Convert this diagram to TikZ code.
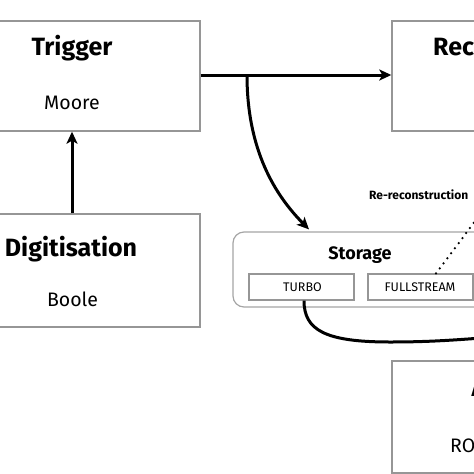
\documentclass[tikz,border=0pt]{standalone}
\usepackage{fontspec}
\setmainfont{Fira Sans}
\usetikzlibrary{arrows.meta,calc}
\definecolor{boxgray}{RGB}{150,150,150}
\definecolor{storegray}{RGB}{165,165,165}
\begin{document}
\begin{tikzpicture}[x=1pt,y=-1pt,
  stagebox/.style={draw=boxgray,line width=1.4pt,minimum width=256pt,minimum height=110pt,inner sep=0pt},
  streambox/.style={draw=boxgray,line width=1.2pt,minimum width=105pt,minimum height=26pt,inner sep=0pt},
  storebox/.style={draw=storegray,line width=1.2pt,rounded corners=11pt,minimum width=254pt,minimum height=75pt,inner sep=0pt},
  title/.style={font=\bfseries\fontsize{25}{28}\selectfont,inner sep=0pt,anchor=base},
  sub/.style={font=\fontsize{19.5}{22}\selectfont,inner sep=0pt,anchor=base},
  small/.style={font=\fontsize{12.5}{14}\selectfont,inner sep=0pt,anchor=base},
  flow/.style={line width=3pt,-{Stealth[length=12pt,width=11pt,inset=3pt]}},
  dots/.style={line width=2.5pt,line cap=round,dash pattern=on 0pt off 6.3pt}
]
\useasboundingbox (0,0) rectangle (474,474);
\clip (0,0) rectangle (474,474);

% stage boxes
\node[stagebox] (trig) at (72,76) {};
\node[stagebox] (reco) at (520,76) {};
\node[stagebox,minimum height=113pt] (digi) at (72,270.5) {};
\node[stagebox,minimum height=112pt] (ana) at (520,417) {};

% storage
\node[storebox] (storage) at (360,269.5) {};
\node[streambox] (turbo) at (301.5,287) {};
\node[streambox] (full) at (420.5,287) {};

% texts
\node[title] (trigT) at (72,55) {Trigger};
\node[sub] (trigS) at (72,109) {Moore};
\node[title] (digiT) at (71,256) {Digitisation};
\node[sub] (digiS) at (72.5,306) {Boole};
\node[title,anchor=base west] (recoT) at (433,55) {Reconstruction};
\node[title,anchor=base west] (anaT) at (471.5,396) {Analysis};
\node[sub,anchor=base west] (anaS) at (450,452) {ROOT};
\node[font=\bfseries\fontsize{18}{20}\selectfont,inner sep=0pt,anchor=base] (storeT) at (360,259) {Storage};
\node[small] (turboT) at (302.5,291.5) {TURBO};
\node[small] (fullT) at (420,291.5) {FULLSTREAM};
\node[font=\bfseries\fontsize{12}{14}\selectfont,inner sep=0pt,anchor=base west] (rerecoT) at (369,199) {Re-reconstruction};

% connectors
\draw[flow] (digi.north) -- (trig.south);
\draw[flow] (trig.east |- 0,75) coordinate (tout) -- (reco.west |- 0,75);
\coordinate (split) at (247,75);
\coordinate (storein) at ($(storage.north)+(-51,-2)$);
\draw[flow] (split) .. controls (247,150) and (275,195) .. (storein);
\coordinate (turboout) at ($(turbo.south)+(2.5,0)$);
\coordinate (mid) at (390,342);
\coordinate (offright) at (495,337);
\draw[line width=3pt] (turboout) .. controls (304,330) and (325,342) .. (mid) .. controls (430,342) and (455,340) .. (offright);
\coordinate (fullup) at ($(full.north)+(15.5,0)$);
\coordinate (recodown) at ($(reco.south)+(22,0)$);
\draw[dots] (fullup) -- (recodown);
\end{tikzpicture}
\end{document}
